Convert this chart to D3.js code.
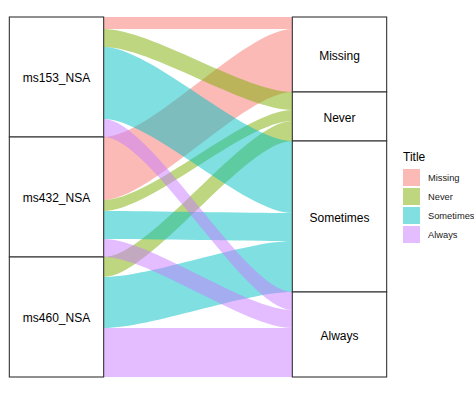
<!DOCTYPE html>
<html>
<head>
<meta charset="utf-8">
<script src="https://cdn.jsdelivr.net/npm/d3@7"></script>
<style>
  html, body { margin: 0; padding: 0; background: #fff; }
  svg { display: block; font-family: "Liberation Sans", Arial, sans-serif; }
</style>
</head>
<body>
<svg id="chart" width="474" height="395"></svg>
<script>
// ---- data ----
const variables = ["ms153_NSA", "ms432_NSA", "ms460_NSA"];
const responses = ["Missing", "Never", "Sometimes", "Always"];
const ms153 = [12, 18, 72, 18];
const ms432 = [63, 11, 28, 18];
const ms460 = [0, 20, 51, 49];
const legendTitle = "Title";
const colors = ["#F8766D", "#7CAE00", "#00BFC4", "#C77CFF"];

const counts = [ms153, ms432, ms460];
const total = d3.sum(counts, d => d3.sum(d));

const svg = d3.select("#chart");

// axes positions (ggplot-like discrete x: 1, 2 ; stratum width 1/3)
const x = d3.scaleLinear().domain([1, 2]).range([56.5, 339.5]);
const halfW = (x(2) - x(1)) / 3 / 2;
const y = d3.scaleLinear().domain([0, total]).range([17, 377]);
const color = d3.scaleOrdinal().domain(responses).range(colors);

// flows
const flows = [];
variables.forEach((v, i) => responses.forEach((r, j) => {
  flows.push({ v, r, i, j, n: counts[i][j] });
}));
// left stacking: by variable then response
let acc = 0;
flows.slice().sort((a, b) => a.i - b.i || a.j - b.j).forEach(f => { f.l0 = acc; acc += f.n; f.l1 = acc; });
// right stacking: by response then variable
acc = 0;
flows.slice().sort((a, b) => a.j - b.j || a.i - b.i).forEach(f => { f.r0 = acc; acc += f.n; f.r1 = acc; });

const xL = x(1) + halfW, xR = x(2) - halfW;
const knot = (xR - xL) * 0.25;
const c1 = xL + knot, c2 = xR - knot;
function flowPath(f) {
  const p = d3.path();
  p.moveTo(xL, y(f.l0));
  p.bezierCurveTo(c1, y(f.l0), c2, y(f.r0), xR, y(f.r0));
  p.lineTo(xR, y(f.r1));
  p.bezierCurveTo(c2, y(f.r1), c1, y(f.l1), xL, y(f.l1));
  p.closePath();
  return p.toString();
}

svg.append("g").selectAll("path")
  .data(flows.filter(f => f.n > 0).sort((a, b) => a.j - b.j || a.i - b.i))
  .join("path")
  .attr("d", flowPath)
  .attr("fill", d => color(d.r))
  .attr("fill-opacity", 0.5)
  .attr("stroke", "none");

// strata
const leftStrata = [];
acc = 0;
variables.forEach((v, i) => { const n = d3.sum(counts[i]); leftStrata.push({ label: v, a: acc, b: acc + n, ax: 1 }); acc += n; });
const rightStrata = [];
acc = 0;
responses.forEach((r, j) => { const n = d3.sum(counts, c => c[j]); rightStrata.push({ label: r, a: acc, b: acc + n, ax: 2 }); acc += n; });
const strata = leftStrata.concat(rightStrata);

const sg = svg.append("g");
sg.selectAll("rect").data(strata).join("rect")
  .attr("x", d => x(d.ax) - halfW)
  .attr("y", d => y(d.a))
  .attr("width", halfW * 2)
  .attr("height", d => y(d.b) - y(d.a))
  .attr("fill", "#fff")
  .attr("stroke", "#333")
  .attr("stroke-width", 1.1);
sg.selectAll("text").data(strata).join("text")
  .attr("x", d => x(d.ax))
  .attr("y", d => (y(d.a) + y(d.b)) / 2 + 5)
  .attr("text-anchor", "middle")
  .attr("font-size", 12)
  .attr("fill", "#000")
  .text(d => d.label);

// legend
const lg = svg.append("g").attr("transform", "translate(403,0)");
lg.append("text").attr("x", 0).attr("y", 161).attr("font-size", 12).attr("fill", "#000").text(legendTitle);
const items = lg.selectAll("g.item").data(responses).join("g")
  .attr("class", "item")
  .attr("transform", (d, k) => `translate(0,${169 + k * 19})`);
items.append("rect").attr("width", 17).attr("height", 17)
  .attr("fill", d => color(d)).attr("fill-opacity", 0.5);
items.append("text").attr("x", 25).attr("y", 12).attr("font-size", 9.3).attr("fill", "#1a1a1a").text(d => d);
</script>
</body>
</html>
